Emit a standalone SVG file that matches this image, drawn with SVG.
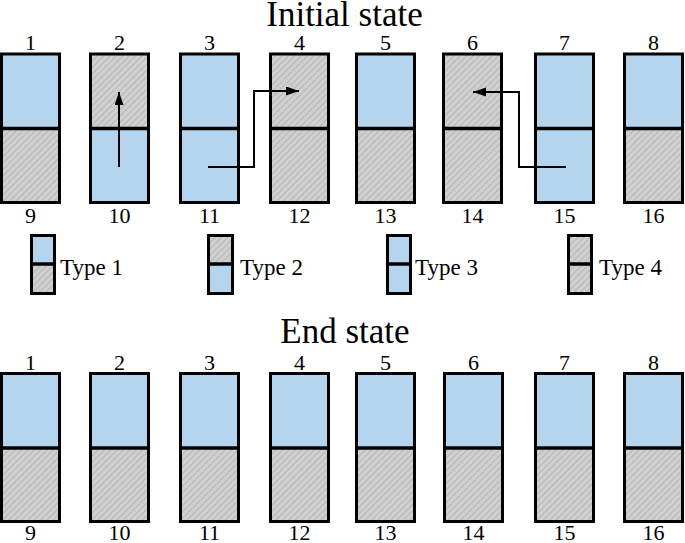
<svg xmlns="http://www.w3.org/2000/svg" width="685" height="543" viewBox="0 0 685 543">
<style>
text{font-family:'Liberation Serif','Times New Roman',serif;fill:#000}
.t{text-anchor:middle}
.title{font-size:35px}
.num{font-size:22px}
.leg{font-size:23px}
.b{fill:#b5d5ee}
.g{fill:url(#hatch)}
.o{fill:none;stroke:#000;stroke-width:3}
.d{stroke:#000;stroke-width:3.5}
.c{fill:none;stroke:#000;stroke-width:2}
</style>
<defs>
<pattern id="hatch" patternUnits="userSpaceOnUse" width="4.5" height="4.5" patternTransform="rotate(45)">
<rect width="4.5" height="4.5" fill="#cfcfcf"/>
<line x1="0" y1="0" x2="0" y2="4.5" stroke="#9a9a9a" stroke-width="0.9"/>
</pattern>
<marker id="ah" markerUnits="userSpaceOnUse" markerWidth="14" markerHeight="10" refX="13" refY="4.5" orient="auto">
<path d="M0,0 L13,4.5 L0,9 z" fill="#000"/>
</marker>
</defs>
<rect width="685" height="543" fill="#fff"/>
<text class="t title" x="344.5" y="26">Initial state</text>
<text class="t title" x="345" y="343">End state</text>

<!-- Initial state boxes -->
<g id="init-1"><rect class="b" x="1.5" y="54" width="58" height="74.5"/><rect class="g" x="1.5" y="128.5" width="58" height="74"/><line class="d" x1="1.5" y1="128.5" x2="59.5" y2="128.5"/><rect class="o" x="1.5" y="54" width="58" height="148.5"/><text class="t num" x="30.5" y="50">1</text><text class="t num" x="30.5" y="222.5">9</text></g>
<g id="init-2"><rect class="g" x="90.5" y="54" width="58" height="74.5"/><rect class="b" x="90.5" y="128.5" width="58" height="74"/><line class="d" x1="90.5" y1="128.5" x2="148.5" y2="128.5"/><rect class="o" x="90.5" y="54" width="58" height="148.5"/><text class="t num" x="119.5" y="50">2</text><text class="t num" x="119.5" y="222.5">10</text></g>
<g id="init-3"><rect class="b" x="180.5" y="54" width="58" height="74.5"/><rect class="b" x="180.5" y="128.5" width="58" height="74"/><line class="d" x1="180.5" y1="128.5" x2="238.5" y2="128.5"/><rect class="o" x="180.5" y="54" width="58" height="148.5"/><text class="t num" x="209.5" y="50">3</text><text class="t num" x="209.5" y="222.5">11</text></g>
<g id="init-4"><rect class="g" x="270.5" y="54" width="58" height="74.5"/><rect class="g" x="270.5" y="128.5" width="58" height="74"/><line class="d" x1="270.5" y1="128.5" x2="328.5" y2="128.5"/><rect class="o" x="270.5" y="54" width="58" height="148.5"/><text class="t num" x="299.5" y="50">4</text><text class="t num" x="299.5" y="222.5">12</text></g>
<g id="init-5"><rect class="b" x="356.5" y="54" width="58" height="74.5"/><rect class="g" x="356.5" y="128.5" width="58" height="74"/><line class="d" x1="356.5" y1="128.5" x2="414.5" y2="128.5"/><rect class="o" x="356.5" y="54" width="58" height="148.5"/><text class="t num" x="385.5" y="50">5</text><text class="t num" x="385.5" y="222.5">13</text></g>
<g id="init-6"><rect class="g" x="443.5" y="54" width="58" height="74.5"/><rect class="g" x="443.5" y="128.5" width="58" height="74"/><line class="d" x1="443.5" y1="128.5" x2="501.5" y2="128.5"/><rect class="o" x="443.5" y="54" width="58" height="148.5"/><text class="t num" x="472.5" y="50">6</text><text class="t num" x="472.5" y="222.5">14</text></g>
<g id="init-7"><rect class="b" x="535.5" y="54" width="58" height="74.5"/><rect class="b" x="535.5" y="128.5" width="58" height="74"/><line class="d" x1="535.5" y1="128.5" x2="593.5" y2="128.5"/><rect class="o" x="535.5" y="54" width="58" height="148.5"/><text class="t num" x="564.5" y="50">7</text><text class="t num" x="564.5" y="222.5">15</text></g>
<g id="init-8"><rect class="b" x="624.5" y="54" width="58" height="74.5"/><rect class="g" x="624.5" y="128.5" width="58" height="74"/><line class="d" x1="624.5" y1="128.5" x2="682.5" y2="128.5"/><rect class="o" x="624.5" y="54" width="58" height="148.5"/><text class="t num" x="653.5" y="50">8</text><text class="t num" x="653.5" y="222.5">16</text></g>

<!-- connectors -->
<g id="connectors">
<path class="c" d="M119,167 V92" marker-end="url(#ah)"/>
<path class="c" d="M208,167 H254 V91 H299" marker-end="url(#ah)"/>
<path class="c" d="M566,167 H519 V92 H473" marker-end="url(#ah)"/>
</g>

<!-- legend -->
<g id="legend-type1"><rect class="b" x="31.5" y="235.5" width="23" height="28.5"/><rect class="g" x="31.5" y="264" width="23" height="29.5"/><line class="d" x1="31.5" y1="264" x2="54.5" y2="264"/><rect class="o" x="31.5" y="235.5" width="23" height="58"/><text class="leg" x="60" y="275">Type 1</text></g>
<g id="legend-type2"><rect class="g" x="208.5" y="235.5" width="24" height="28.5"/><rect class="b" x="208.5" y="264" width="24" height="29.5"/><line class="d" x1="208.5" y1="264" x2="232.5" y2="264"/><rect class="o" x="208.5" y="235.5" width="24" height="58"/><text class="leg" x="240" y="275">Type 2</text></g>
<g id="legend-type3"><rect class="b" x="387.5" y="235.5" width="23" height="28.5"/><rect class="b" x="387.5" y="264" width="23" height="29.5"/><line class="d" x1="387.5" y1="264" x2="410.5" y2="264"/><rect class="o" x="387.5" y="235.5" width="23" height="58"/><text class="leg" x="415" y="275">Type 3</text></g>
<g id="legend-type4"><rect class="g" x="568.5" y="235.5" width="23" height="28.5"/><rect class="g" x="568.5" y="264" width="23" height="29.5"/><line class="d" x1="568.5" y1="264" x2="591.5" y2="264"/><rect class="o" x="568.5" y="235.5" width="23" height="58"/><text class="leg" x="599" y="275">Type 4</text></g>

<!-- End state boxes -->
<g id="end-1"><rect class="b" x="1.5" y="373.5" width="58" height="74.5"/><rect class="g" x="1.5" y="448" width="58" height="73.5"/><line class="d" x1="1.5" y1="448" x2="59.5" y2="448"/><rect class="o" x="1.5" y="373.5" width="58" height="148"/><text class="t num" x="30.5" y="370">1</text><text class="t num" x="30.5" y="540">9</text></g>
<g id="end-2"><rect class="b" x="90.5" y="373.5" width="58" height="74.5"/><rect class="g" x="90.5" y="448" width="58" height="73.5"/><line class="d" x1="90.5" y1="448" x2="148.5" y2="448"/><rect class="o" x="90.5" y="373.5" width="58" height="148"/><text class="t num" x="119.5" y="370">2</text><text class="t num" x="119.5" y="540">10</text></g>
<g id="end-3"><rect class="b" x="180.5" y="373.5" width="58" height="74.5"/><rect class="g" x="180.5" y="448" width="58" height="73.5"/><line class="d" x1="180.5" y1="448" x2="238.5" y2="448"/><rect class="o" x="180.5" y="373.5" width="58" height="148"/><text class="t num" x="209.5" y="370">3</text><text class="t num" x="209.5" y="540">11</text></g>
<g id="end-4"><rect class="b" x="270.5" y="373.5" width="58" height="74.5"/><rect class="g" x="270.5" y="448" width="58" height="73.5"/><line class="d" x1="270.5" y1="448" x2="328.5" y2="448"/><rect class="o" x="270.5" y="373.5" width="58" height="148"/><text class="t num" x="299.5" y="370">4</text><text class="t num" x="299.5" y="540">12</text></g>
<g id="end-5"><rect class="b" x="356.5" y="373.5" width="58" height="74.5"/><rect class="g" x="356.5" y="448" width="58" height="73.5"/><line class="d" x1="356.5" y1="448" x2="414.5" y2="448"/><rect class="o" x="356.5" y="373.5" width="58" height="148"/><text class="t num" x="385.5" y="370">5</text><text class="t num" x="385.5" y="540">13</text></g>
<g id="end-6"><rect class="b" x="444.5" y="373.5" width="58" height="74.5"/><rect class="g" x="444.5" y="448" width="58" height="73.5"/><line class="d" x1="444.5" y1="448" x2="502.5" y2="448"/><rect class="o" x="444.5" y="373.5" width="58" height="148"/><text class="t num" x="473.5" y="370">6</text><text class="t num" x="473.5" y="540">14</text></g>
<g id="end-7"><rect class="b" x="535.5" y="373.5" width="58" height="74.5"/><rect class="g" x="535.5" y="448" width="58" height="73.5"/><line class="d" x1="535.5" y1="448" x2="593.5" y2="448"/><rect class="o" x="535.5" y="373.5" width="58" height="148"/><text class="t num" x="564.5" y="370">7</text><text class="t num" x="564.5" y="540">15</text></g>
<g id="end-8"><rect class="b" x="624.5" y="373.5" width="58" height="74.5"/><rect class="g" x="624.5" y="448" width="58" height="73.5"/><line class="d" x1="624.5" y1="448" x2="682.5" y2="448"/><rect class="o" x="624.5" y="373.5" width="58" height="148"/><text class="t num" x="653.5" y="370">8</text><text class="t num" x="653.5" y="540">16</text></g>
</svg>
